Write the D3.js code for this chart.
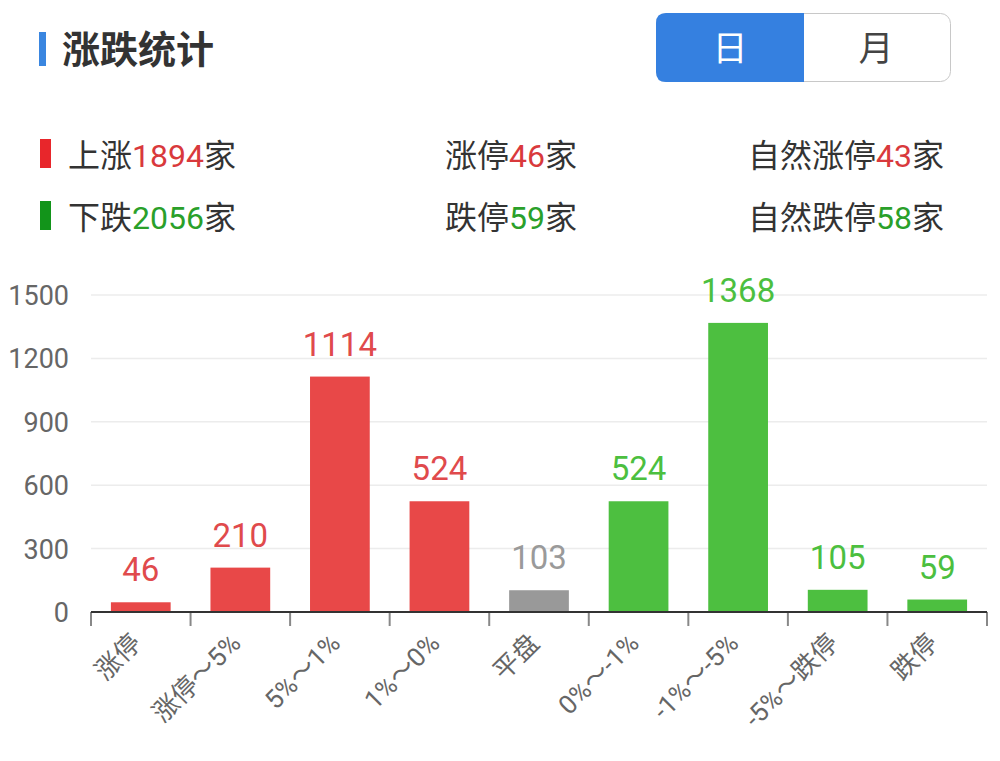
<!DOCTYPE html>
<html><head><meta charset="utf-8">
<script src="https://cdn.jsdelivr.net/npm/d3@7"></script>
<style>body{margin:0;background:#fff;font-family:Roboto,"Noto Sans CJK SC",sans-serif;}</style>
</head><body><svg id="c" width="1000" height="761"></svg>
<script>
const categories = ["涨停","涨停～5%","5%～1%","1%～0%","平盘","0%～-1%","-1%～-5%","-5%～跌停","跌停"];
const values = [46,210,1114,524,103,524,1368,105,59];
const kinds = ["up","up","up","up","flat","down","down","down","down"];
const yTicks = [0,300,600,900,1200,1500];
const summaryUp = [["上涨",1894],["涨停",46],["自然涨停",43]];
const summaryDown = [["下跌",2056],["跌停",59],["自然跌停",58]];

const colors = {up:"#e84848", flat:"#999999", down:"#4dbf40"};
const labelColors = {up:"#e04a4c", flat:"#9a9a9a", down:"#4cbf3f"};
const textColors = {up:"#d9393c", down:"#2aa02a"};
const font = 'Roboto,"Noto Sans CJK SC",sans-serif';
const svg = d3.select("#c");

// title
svg.append("rect").attr("x",39).attr("y",32).attr("width",7).attr("height",34).attr("fill","#3a86e0");
svg.append("text").attr("x",62).attr("y",63).attr("font-size",38).attr("font-weight","bold")
  .attr("fill","#333").attr("font-family",font).text("涨跌统计");

// toggle
const tg = svg.append("g");
tg.append("rect").attr("x",656.5).attr("y",13.5).attr("width",294).attr("height",68).attr("rx",10)
  .attr("fill","#fff").attr("stroke","#c8c8c8");
tg.append("path").attr("d","M804,13 L666,13 Q656,13 656,23 L656,72 Q656,82 666,82 L804,82 Z").attr("fill","#3580e0");
tg.append("text").attr("x",730).attr("y",61).attr("text-anchor","middle").attr("font-size",35)
  .attr("fill","#fff").attr("font-family",font).text("日");
tg.append("text").attr("x",876).attr("y",61).attr("text-anchor","middle").attr("font-size",35)
  .attr("fill","#444").attr("font-family",font).text("月");

// summary legend
const colX = [68,445,748];
function row(data, y, kind, sq){
  svg.append("rect").attr("x",40).attr("y",y-28).attr("width",11).attr("height",29).attr("fill",sq);
  data.forEach((d,i)=>{
    const t = svg.append("text").attr("x",colX[i]).attr("y",y).attr("font-size",32).attr("font-family",font).attr("fill","#333");
    t.append("tspan").text(d[0]);
    t.append("tspan").attr("fill",textColors[kind]).text(d[1]);
    t.append("tspan").text("家");
  });
}
row(summaryUp,167,"up","#e8262b");
row(summaryDown,229,"down","#12941a");

// chart
const m = {left:91,right:987,top:295,bottom:612};
const x = d3.scaleBand().domain(categories).range([m.left,m.right]).paddingInner(0.4).paddingOuter(0.2);
const y = d3.scaleLinear().domain([0,1500]).range([m.bottom,m.top]);

const g = svg.append("g");
g.selectAll(".grid").data(yTicks.filter(d=>d>0)).join("line")
  .attr("x1",m.left).attr("x2",m.right).attr("y1",d=>y(d)).attr("y2",d=>y(d))
  .attr("stroke","#ececec").attr("stroke-width",1.5);
g.selectAll(".yl").data(yTicks).join("text")
  .attr("x",69).attr("y",d=>y(d)+10).attr("text-anchor","end").attr("font-size",27)
  .attr("fill","#666").attr("font-family",font).text(d=>d);

g.selectAll(".bar").data(values).join("rect")
  .attr("x",(d,i)=>x(categories[i])).attr("width",x.bandwidth())
  .attr("y",d=>y(d)).attr("height",d=>y(0)-y(d))
  .attr("fill",(d,i)=>colors[kinds[i]]);
g.selectAll(".vl").data(values).join("text")
  .attr("x",(d,i)=>x(categories[i])+x.bandwidth()/2).attr("y",d=>y(d)-21)
  .attr("text-anchor","middle").attr("font-size",33).attr("font-family",font)
  .attr("fill",(d,i)=>labelColors[kinds[i]]).text(d=>d);

// x axis
const step = (m.right-m.left)/categories.length;
const tickXs = d3.range(categories.length+1).map(i=>m.left+i*step);
g.selectAll(".tk").data(tickXs).join("line")
  .attr("x1",d=>d).attr("x2",d=>d).attr("y1",m.bottom).attr("y2",m.bottom+14)
  .attr("stroke","#888").attr("stroke-width",2);
g.append("line").attr("x1",m.left).attr("x2",m.right).attr("y1",m.bottom).attr("y2",m.bottom)
  .attr("stroke","#333").attr("stroke-width",2);
g.selectAll(".xl").data(categories).join("text")
  .attr("transform",d=>`translate(${x(d)+x.bandwidth()/2-11},${m.bottom+20}) rotate(-45)`)
  .attr("text-anchor","end").attr("font-size",26).attr("font-family",font).attr("fill","#666")
  .attr("dy","0.7em").text(d=>d);
</script></body></html>
